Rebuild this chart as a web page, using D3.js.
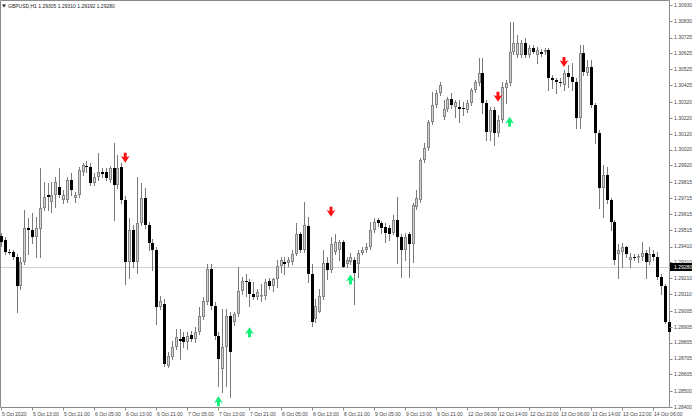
<!DOCTYPE html>
<html><head><meta charset="utf-8">
<script src="https://cdn.jsdelivr.net/npm/d3@7"></script>
<style>html,body{margin:0;padding:0;background:#fff;} svg{display:block;}</style>
</head><body><svg id="c" width="692" height="420"></svg>
<script>
const symbol = "GBPUSD,H1";
const lastQuote = [1.29305, 1.29310, 1.29192, 1.29280];
const currentPrice = 1.29280;

const open = [1.29479,1.29454,1.29378,1.29378,1.29347,1.29159,1.29315,1.29529,1.29517,1.29467,
1.29522,1.29655,1.29737,1.29692,1.29737,1.29787,1.29705,1.29705,1.29831,1.29718,
1.29737,1.29880,1.29918,1.29912,1.29812,1.29849,1.29880,1.29880,1.29831,1.29906,
1.29800,1.29912,1.29705,1.29315,1.29517,1.29315,1.29560,1.29718,1.29548,1.29435,
1.29391,1.29027,1.29046,1.28656,1.28713,1.28776,1.28826,1.28839,1.28807,1.28851,
1.28826,1.28870,1.28964,1.29058,1.29271,1.29033,1.28845,1.28637,1.28776,1.28970,
1.28938,1.28983,1.29127,1.29190,1.29184,1.29109,1.29090,1.29102,1.29096,1.29190,
1.29159,1.29203,1.29290,1.29315,1.29309,1.29315,1.29366,1.29486,1.29391,1.29541,
1.29234,1.28951,1.29001,1.29090,1.29309,1.29265,1.29378,1.29391,1.29441,1.29297,
1.29315,1.29328,1.29297,1.29372,1.29391,1.29410,1.29517,1.29579,1.29560,1.29535,
1.29529,1.29498,1.29579,1.29467,1.29391,1.29486,1.29423,1.29661,1.29705,1.29956,
1.30032,1.30195,1.30302,1.30377,1.30226,1.30276,1.30340,1.30289,1.30289,1.30283,
1.30270,1.30314,1.30396,1.30440,1.30502,1.30314,1.30132,1.30270,1.30126,1.30207,
1.30409,1.30440,1.30635,1.30616,1.30616,1.30691,1.30616,1.30660,1.30616,1.30635,
1.30635,1.30647,1.30471,1.30459,1.30446,1.30428,1.30502,1.30477,1.30446,1.30220,
1.30628,1.30502,1.30540,1.30302,1.30126,1.29781,1.29862,1.29705,1.29566,1.29360,
1.29378,1.29404,1.29328,1.29347,1.29347,1.29347,1.29372,1.29315,1.29360,1.29347,
1.29221,1.29159,1.28938];

const high = [1.29492,1.29473,1.29397,1.29391,1.29360,1.29341,1.29642,1.29592,1.29623,1.29598,
1.29906,1.29818,1.29812,1.29818,1.29849,1.29906,1.29768,1.29849,1.29874,1.29755,
1.29912,1.29937,1.29950,1.29937,1.29874,1.30000,1.29906,1.29906,1.29918,1.30063,
1.29988,1.29937,1.29730,1.29592,1.29548,1.29849,1.29812,1.29781,1.29566,1.29460,
1.29404,1.29096,1.29077,1.28744,1.28813,1.28889,1.28889,1.28870,1.28870,1.28876,
1.28901,1.29027,1.29090,1.29297,1.29297,1.29058,1.28870,1.29014,1.29014,1.29001,
1.29001,1.29284,1.29221,1.29234,1.29203,1.29184,1.29140,1.29172,1.29203,1.29215,
1.29215,1.29328,1.29341,1.29341,1.29347,1.29391,1.29560,1.29504,1.29692,1.29598,
1.29297,1.29077,1.29140,1.29391,1.29347,1.29473,1.29486,1.29454,1.29454,1.29347,
1.29372,1.29341,1.29391,1.29410,1.29429,1.29566,1.29592,1.29592,1.29572,1.29560,
1.29548,1.29611,1.29724,1.29486,1.29492,1.29504,1.29686,1.29768,1.29969,1.30063,
1.30207,1.30384,1.30396,1.30446,1.30333,1.30352,1.30377,1.30333,1.30333,1.30320,
1.30333,1.30409,1.30459,1.30597,1.30597,1.30333,1.30289,1.30289,1.30239,1.30446,
1.30459,1.30823,1.30823,1.30741,1.30710,1.30722,1.30679,1.30679,1.30666,1.30653,
1.30660,1.30660,1.30490,1.30471,1.30471,1.30521,1.30553,1.30566,1.30471,1.30679,
1.30679,1.30584,1.30584,1.30314,1.30145,1.29925,1.29912,1.29718,1.29579,1.29423,
1.29435,1.29416,1.29372,1.29360,1.29366,1.29441,1.29391,1.29410,1.29391,1.29378,
1.29240,1.29172,1.29001];

const low = [1.29416,1.29366,1.29360,1.29334,1.29001,1.29140,1.29303,1.29360,1.29435,1.29347,
1.29347,1.29642,1.29642,1.29629,1.29661,1.29724,1.29686,1.29692,1.29737,1.29692,
1.29724,1.29862,1.29880,1.29800,1.29800,1.29831,1.29849,1.29831,1.29818,1.29579,
1.29781,1.29686,1.29172,1.29215,1.29278,1.29246,1.29548,1.29529,1.29391,1.29265,
1.28920,1.29014,1.28656,1.28650,1.28700,1.28763,1.28700,1.28776,1.28763,1.28813,
1.28807,1.28858,1.28951,1.29046,1.29014,1.28826,1.28531,1.28493,1.28531,1.28462,
1.28913,1.28970,1.29109,1.29096,1.29033,1.29077,1.29077,1.29064,1.29077,1.29140,
1.29127,1.29153,1.29252,1.29234,1.29290,1.29297,1.29354,1.29378,1.29378,1.29184,
1.28907,1.28932,1.28995,1.29077,1.29203,1.29252,1.29366,1.29328,1.29278,1.29284,
1.29303,1.29046,1.29221,1.29360,1.29378,1.29397,1.29504,1.29541,1.29498,1.29441,
1.29454,1.29486,1.29309,1.29221,1.29328,1.29221,1.29315,1.29648,1.29692,1.29943,
1.30019,1.30182,1.30289,1.30365,1.30214,1.30264,1.30283,1.30226,1.30195,1.30239,
1.30258,1.30302,1.30384,1.30428,1.30252,1.30082,1.30082,1.30050,1.30107,1.30195,
1.30314,1.30428,1.30622,1.30603,1.30603,1.30603,1.30603,1.30628,1.30566,1.30610,
1.30622,1.30396,1.30409,1.30377,1.30421,1.30396,1.30415,1.30396,1.30157,1.30157,
1.30490,1.30490,1.30289,1.30063,1.29655,1.29598,1.29686,1.29517,1.29297,1.29215,
1.29284,1.29341,1.29284,1.29328,1.29315,1.29328,1.29215,1.29303,1.29328,1.29203,
1.29109,1.28926,1.28826];

const close = [1.29441,1.29378,1.29372,1.29347,1.29159,1.29315,1.29529,1.29517,1.29467,1.29529,
1.29655,1.29724,1.29724,1.29737,1.29818,1.29737,1.29737,1.29831,1.29768,1.29737,
1.29893,1.29925,1.29912,1.29812,1.29849,1.29880,1.29868,1.29843,1.29906,1.29800,
1.29906,1.29705,1.29315,1.29517,1.29315,1.29560,1.29718,1.29548,1.29435,1.29391,
1.29027,1.29064,1.28669,1.28719,1.28776,1.28839,1.28813,1.28807,1.28845,1.28826,
1.28870,1.28970,1.29064,1.29271,1.29033,1.28845,1.28700,1.28776,1.28970,1.28744,
1.28983,1.29127,1.29190,1.29184,1.29109,1.29090,1.29121,1.29104,1.29184,1.29159,
1.29203,1.29290,1.29328,1.29297,1.29328,1.29366,1.29486,1.29391,1.29548,1.29234,
1.28938,1.29033,1.29096,1.29309,1.29265,1.29423,1.29441,1.29441,1.29284,1.29328,
1.29341,1.29246,1.29372,1.29391,1.29410,1.29517,1.29566,1.29560,1.29529,1.29498,
1.29486,1.29579,1.29467,1.29391,1.29473,1.29423,1.29674,1.29718,1.29956,1.30032,
1.30195,1.30302,1.30377,1.30428,1.30276,1.30340,1.30302,1.30320,1.30276,1.30281,
1.30314,1.30396,1.30446,1.30502,1.30314,1.30132,1.30270,1.30126,1.30207,1.30415,
1.30440,1.30635,1.30691,1.30691,1.30691,1.30616,1.30660,1.30635,1.30647,1.30622,
1.30647,1.30471,1.30459,1.30446,1.30440,1.30502,1.30477,1.30446,1.30220,1.30628,
1.30509,1.30540,1.30302,1.30126,1.29781,1.29862,1.29705,1.29566,1.29328,1.29391,
1.29404,1.29360,1.29347,1.29341,1.29349,1.29372,1.29315,1.29360,1.29347,1.29221,
1.29159,1.28938,1.28870];

const yTickValues = [1.30930,1.30830,1.30725,1.30625,1.30525,1.30425,1.30320,1.30220,1.30120,1.30020,
1.29920,1.29815,1.29715,1.29615,1.29515,1.29410,1.29310,1.29210,1.29110,1.29005,
1.28905,1.28805,1.28705,1.28605,1.28500,1.28400];

const xTickBars = [0,8,16,24,32,40,48,56,64,72,80,88,96,104,112,120,128,136,144,152,160,168];
const xTickLabels = ["5 Oct 2020","5 Oct 13:00","5 Oct 21:00","6 Oct 05:00","6 Oct 13:00","6 Oct 21:00",
"7 Oct 05:00","7 Oct 13:00","7 Oct 21:00","8 Oct 05:00","8 Oct 13:00","8 Oct 21:00",
"9 Oct 05:00","9 Oct 13:00","9 Oct 21:00","12 Oct 06:00","12 Oct 14:00","12 Oct 22:00",
"13 Oct 06:00","13 Oct 14:00","13 Oct 22:00","14 Oct 06:00"];

const downBars = [32, 85, 128, 145];
const downPrices = [1.29969, 1.29629, 1.30352, 1.30571];
const upBars = [56, 64, 90, 131];
const upPrices = [1.28436, 1.28870, 1.29203, 1.30195];

const W = 692, H = 420, plotR = 669.5, plotB = 407.5;
const FONT = "'Liberation Sans', Arial, sans-serif";
const svg = d3.select('#c');
svg.append('rect').attr('width', W).attr('height', H).attr('fill', '#fff');

const x = d3.scaleLinear().domain([0, open.length - 1]).range([1, 668.8]);
const y = d3.scaleLinear().domain([1.28400, 1.30930]).range([407, 5]);

// frame
svg.append('path')
  .attr('d', `M0.5,${plotB}V0.5H${plotR}V${plotB}H0.5`)
  .attr('fill', 'none').attr('stroke', '#8a8a8a').attr('stroke-width', 1);

// current price line
const cpY = Math.round(y(currentPrice)) + 0.5;
svg.append('line').attr('x1', 1).attr('x2', plotR).attr('y1', cpY).attr('y2', cpY)
  .attr('stroke', '#cfcfcf').attr('stroke-width', 1);

// candles
const idx = d3.range(open.length);
const g = svg.append('g');
g.selectAll('line.wick').data(idx).join('line')
  .attr('class', 'wick')
  .attr('x1', i => Math.round(x(i)) + 0.5).attr('x2', i => Math.round(x(i)) + 0.5)
  .attr('y1', i => Math.round(y(high[i]))).attr('y2', i => Math.round(y(low[i])) + 1)
  .attr('stroke', '#7a7a7a').attr('stroke-width', 1);

g.selectAll('rect.bear').data(idx.filter(i => close[i] < open[i])).join('rect')
  .attr('class', 'bear')
  .attr('x', i => Math.round(x(i)) - 1).attr('width', 3)
  .attr('y', i => Math.round(y(open[i])))
  .attr('height', i => Math.max(1, Math.round(y(close[i])) - Math.round(y(open[i]))))
  .attr('fill', '#000');

g.selectAll('rect.bull').data(idx.filter(i => close[i] >= open[i])).join('rect')
  .attr('class', 'bull')
  .attr('x', i => Math.round(x(i)) - 0.5).attr('width', 2)
  .attr('y', i => Math.round(y(close[i])) + 0.5)
  .attr('height', i => Math.max(0.5, Math.round(y(open[i])) - Math.round(y(close[i])) - 1))
  .attr('fill', '#d2d2d2').attr('stroke', '#858585').attr('stroke-width', 1);

// signal arrows
const downPath = 'M-1.5,-5L1.5,-5L1.5,-0.5L4.5,-2L0,5L-4.5,-2L-1.5,-0.5Z';
const upPath = 'M-1.5,5L1.5,5L1.5,0.5L4.5,2L0,-5L-4.5,2L-1.5,0.5Z';
svg.append('g').selectAll('path').data(d3.range(downBars.length)).join('path')
  .attr('d', downPath)
  .attr('transform', k => `translate(${x(downBars[k])},${y(downPrices[k])})`)
  .attr('fill', '#ff1010');
svg.append('g').selectAll('path').data(d3.range(upBars.length)).join('path')
  .attr('d', upPath)
  .attr('transform', k => `translate(${x(upBars[k])},${y(upPrices[k])})`)
  .attr('fill', '#12f07a');

// right price axis
const fmt = d3.format('.5f');
const ay = svg.append('g');
ay.selectAll('line').data(yTickValues).join('line')
  .attr('x1', plotR).attr('x2', plotR + 3)
  .attr('y1', d => Math.round(y(d)) + 0.5).attr('y2', d => Math.round(y(d)) + 0.5)
  .attr('stroke', '#8a8a8a');
ay.selectAll('text').data(yTickValues).join('text')
  .attr('x', 674).attr('y', d => y(d) + 1.8)
  .attr('font-family', FONT).attr('font-size', 5).attr('fill', '#444')
  .text(d => fmt(d));

// current price box
svg.append('rect').attr('x', 670).attr('y', cpY - 4.5).attr('width', 22).attr('height', 8).attr('fill', '#000');
svg.append('text').attr('x', 674).attr('y', cpY + 1.8)
  .attr('font-family', FONT).attr('font-size', 5).attr('fill', '#fff').text(fmt(currentPrice));

// bottom time axis
const ax = svg.append('g');
ax.selectAll('line').data(xTickBars).join('line')
  .attr('x1', b => Math.round(x(b)) + 0.5).attr('x2', b => Math.round(x(b)) + 0.5)
  .attr('y1', plotB).attr('y2', plotB + 3)
  .attr('stroke', '#8a8a8a');
ax.selectAll('text').data(xTickBars).join('text')
  .attr('x', b => Math.round(x(b)) + 1).attr('y', 416)
  .attr('font-family', FONT).attr('font-size', 5).attr('fill', '#444')
  .text((b, k) => xTickLabels[k]);

// title
svg.append('path').attr('d', 'M2,4.5L6,4.5L4,7.5Z').attr('fill', '#222');
svg.append('text').attr('x', 8).attr('y', 8)
  .attr('font-family', FONT).attr('font-size', 5).attr('fill', '#222')
  .text(symbol + '  ' + lastQuote.map(fmt).join(' '));
</script></body></html>
